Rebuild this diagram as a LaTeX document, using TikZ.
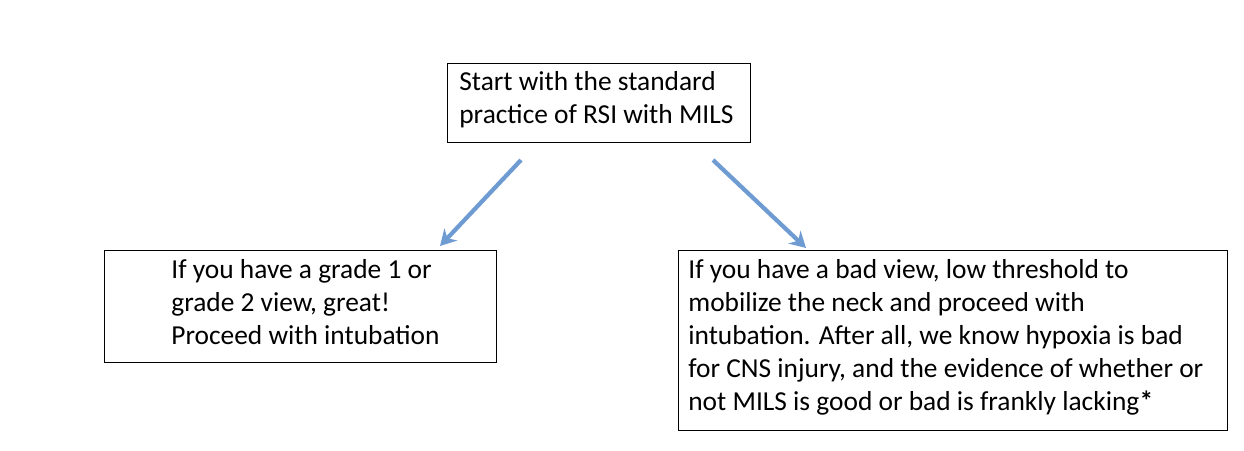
\documentclass[tikz,border=0pt]{standalone}
\usepackage{fontspec}
\setmainfont{Carlito}
\usetikzlibrary{arrows.meta}
\begin{document}
\begin{tikzpicture}[x=0.02cm,y=-0.02cm,
  box/.style={draw,line width=0.8pt,inner sep=0pt,anchor=north west},
  txt/.style={anchor=north west,align=left,inner sep=0pt,font=\fontsize{15.6}{18.8}\selectfont},
  arr/.style={draw={rgb,255:red,110;green,155;blue,210},line width=2.4pt,-{Stealth[length=9pt,width=10pt]}}]
\useasboundingbox (0,0) rectangle (1244,450);
\node[box,minimum width=303*0.02cm,minimum height=79*0.02cm] (top) at (447,63) {};
\node[box,minimum width=392*0.02cm,minimum height=112*0.02cm] (left) at (104,250) {};
\node[box,minimum width=549*0.02cm,minimum height=180*0.02cm] (right) at (678,250) {};
\node[txt] (ttop) at (459,71) {Start with the standard\\practice of RSI with MILS};
\node[txt] (tleft) at (171,259) {If you have a grade 1 or\\grade 2 view, great!\\Proceed with intubation};
\node[txt] (tright) at (688,259) {If you have a bad view, low threshold to\\mobilize the neck and proceed with\\intubation. After all, we know hypoxia is bad\\for CNS injury, and the evidence of whether or\\not MILS is good or bad is frankly lacking\textbf{*}};
\coordinate (a1) at (521,160);
\coordinate (a2) at (440,246);
\coordinate (b1) at (713,160);
\coordinate (b2) at (806,248);
\draw[arr] (a1) -- (a2);
\draw[arr] (b1) -- (b2);
\end{tikzpicture}
\end{document}
